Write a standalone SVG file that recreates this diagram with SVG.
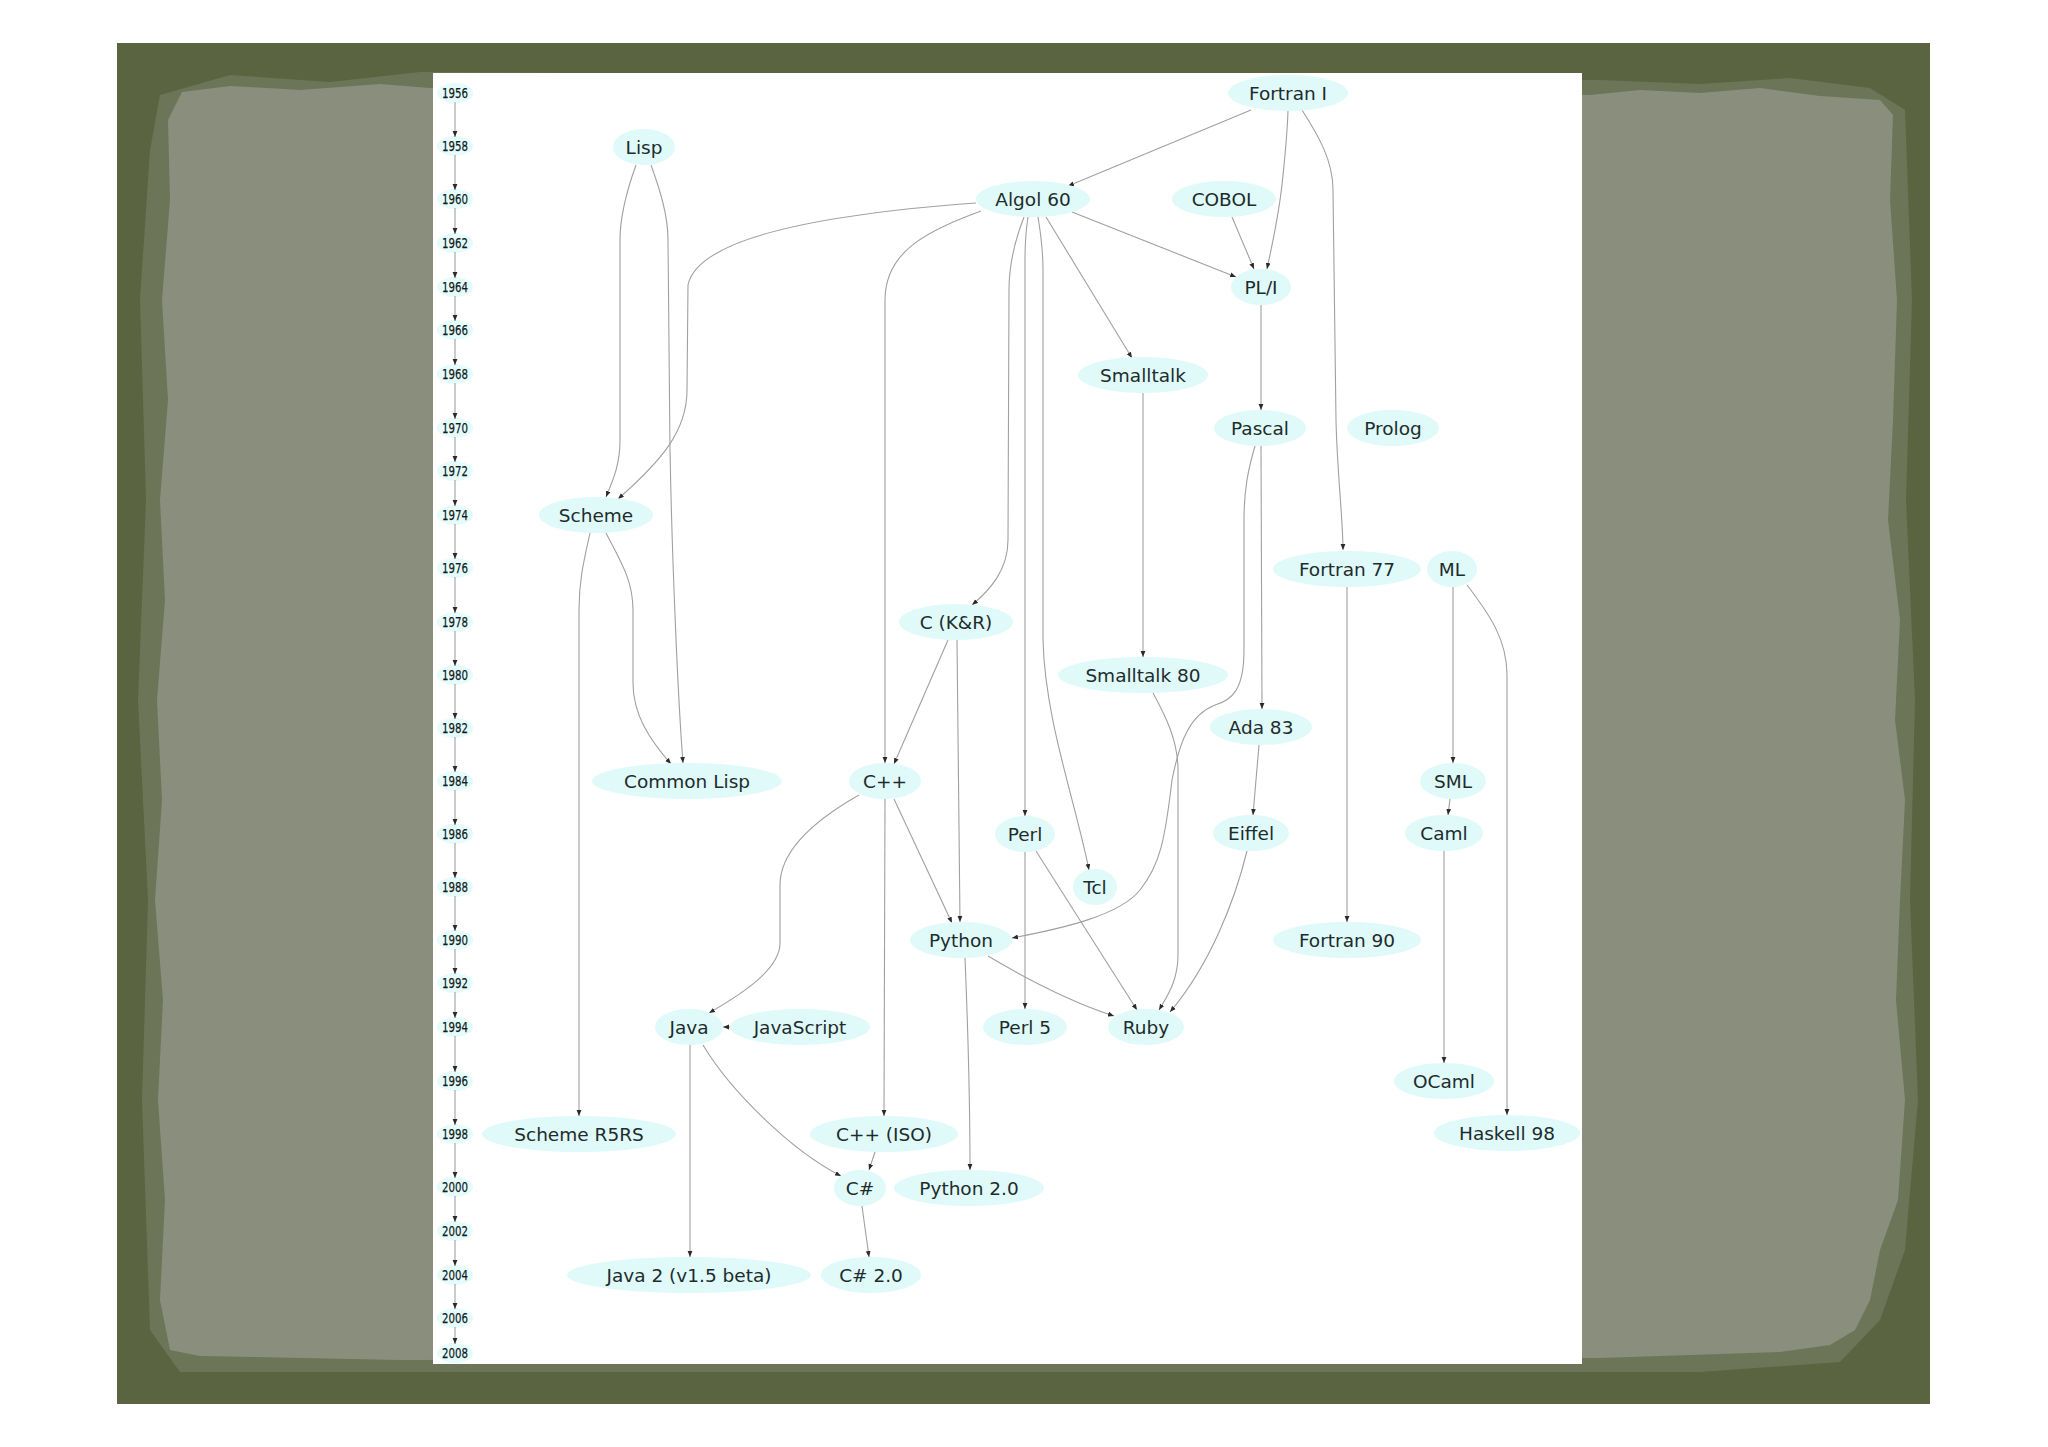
<svg xmlns="http://www.w3.org/2000/svg" width="2048" height="1447" viewBox="0 0 2048 1447">
<style>
.n ellipse{fill:#e0fafa}
.n text{font-family:"DejaVu Sans","Liberation Sans",sans-serif;font-size:18.5px;fill:#1d2c2c;text-anchor:middle}
.y ellipse{fill:#e6fbfb}
.y text{font-family:"DejaVu Sans","Liberation Sans",sans-serif;font-size:14px;fill:#0f1c1c;text-anchor:middle;stroke:#0f1c1c;stroke-width:0.25}
.e{fill:none;stroke:#a0a0a0;stroke-width:1.1;marker-end:url(#ah)}
</style>
<defs>
<marker id="ah" markerWidth="7" markerHeight="6" refX="6" refY="3" orient="auto" markerUnits="userSpaceOnUse"><path d="M0,0.6 L6,3 L0,5.4 z" fill="#2a2a2a"/></marker>
</defs>
<rect width="2048" height="1447" fill="#ffffff"/>
<g id="background">
<rect x="117" y="43" width="1813" height="1361" fill="#5a6440"/>
<polygon fill="#6c7558" points="160,95 230,75 330,82 420,72 1600,80 1700,84 1790,78 1870,88 1905,110 1912,300 1906,500 1915,700 1910,900 1918,1100 1905,1250 1880,1320 1840,1362 1700,1372 180,1372 150,1330 142,1100 148,900 138,700 146,500 140,300 150,150"/>
<polygon fill="#8a8f7d" points="182,92 230,86 300,90 380,84 430,88 1590,95 1640,90 1700,93 1760,88 1820,96 1880,100 1893,115 1890,200 1897,300 1893,420 1888,520 1900,620 1895,720 1905,800 1900,900 1896,1000 1905,1100 1898,1200 1880,1250 1870,1300 1855,1330 1830,1345 1780,1352 1600,1358 400,1360 200,1356 170,1350 160,1300 165,1200 158,1100 163,1000 155,900 162,800 157,700 165,600 160,500 168,400 162,300 170,200 168,120"/>
</g>
<rect id="panel" x="433" y="73" width="1149" height="1291" fill="#ffffff"/>
<g id="years">
<g class="y" id="y1956"><ellipse cx="455" cy="93" rx="18" ry="10"/><text x="455" y="98" textLength="26" lengthAdjust="spacingAndGlyphs">1956</text></g>
<g class="y" id="y1958"><ellipse cx="455" cy="146" rx="18" ry="10"/><text x="455" y="151" textLength="26" lengthAdjust="spacingAndGlyphs">1958</text></g>
<g class="y" id="y1960"><ellipse cx="455" cy="199" rx="18" ry="10"/><text x="455" y="204" textLength="26" lengthAdjust="spacingAndGlyphs">1960</text></g>
<g class="y" id="y1962"><ellipse cx="455" cy="243" rx="18" ry="10"/><text x="455" y="248" textLength="26" lengthAdjust="spacingAndGlyphs">1962</text></g>
<g class="y" id="y1964"><ellipse cx="455" cy="287" rx="18" ry="10"/><text x="455" y="292" textLength="26" lengthAdjust="spacingAndGlyphs">1964</text></g>
<g class="y" id="y1966"><ellipse cx="455" cy="330" rx="18" ry="10"/><text x="455" y="335" textLength="26" lengthAdjust="spacingAndGlyphs">1966</text></g>
<g class="y" id="y1968"><ellipse cx="455" cy="374" rx="18" ry="10"/><text x="455" y="379" textLength="26" lengthAdjust="spacingAndGlyphs">1968</text></g>
<g class="y" id="y1970"><ellipse cx="455" cy="428" rx="18" ry="10"/><text x="455" y="433" textLength="26" lengthAdjust="spacingAndGlyphs">1970</text></g>
<g class="y" id="y1972"><ellipse cx="455" cy="471" rx="18" ry="10"/><text x="455" y="476" textLength="26" lengthAdjust="spacingAndGlyphs">1972</text></g>
<g class="y" id="y1974"><ellipse cx="455" cy="515" rx="18" ry="10"/><text x="455" y="520" textLength="26" lengthAdjust="spacingAndGlyphs">1974</text></g>
<g class="y" id="y1976"><ellipse cx="455" cy="568" rx="18" ry="10"/><text x="455" y="573" textLength="26" lengthAdjust="spacingAndGlyphs">1976</text></g>
<g class="y" id="y1978"><ellipse cx="455" cy="622" rx="18" ry="10"/><text x="455" y="627" textLength="26" lengthAdjust="spacingAndGlyphs">1978</text></g>
<g class="y" id="y1980"><ellipse cx="455" cy="675" rx="18" ry="10"/><text x="455" y="680" textLength="26" lengthAdjust="spacingAndGlyphs">1980</text></g>
<g class="y" id="y1982"><ellipse cx="455" cy="728" rx="18" ry="10"/><text x="455" y="733" textLength="26" lengthAdjust="spacingAndGlyphs">1982</text></g>
<g class="y" id="y1984"><ellipse cx="455" cy="781" rx="18" ry="10"/><text x="455" y="786" textLength="26" lengthAdjust="spacingAndGlyphs">1984</text></g>
<g class="y" id="y1986"><ellipse cx="455" cy="834" rx="18" ry="10"/><text x="455" y="839" textLength="26" lengthAdjust="spacingAndGlyphs">1986</text></g>
<g class="y" id="y1988"><ellipse cx="455" cy="887" rx="18" ry="10"/><text x="455" y="892" textLength="26" lengthAdjust="spacingAndGlyphs">1988</text></g>
<g class="y" id="y1990"><ellipse cx="455" cy="940" rx="18" ry="10"/><text x="455" y="945" textLength="26" lengthAdjust="spacingAndGlyphs">1990</text></g>
<g class="y" id="y1992"><ellipse cx="455" cy="983" rx="18" ry="10"/><text x="455" y="988" textLength="26" lengthAdjust="spacingAndGlyphs">1992</text></g>
<g class="y" id="y1994"><ellipse cx="455" cy="1027" rx="18" ry="10"/><text x="455" y="1032" textLength="26" lengthAdjust="spacingAndGlyphs">1994</text></g>
<g class="y" id="y1996"><ellipse cx="455" cy="1081" rx="18" ry="10"/><text x="455" y="1086" textLength="26" lengthAdjust="spacingAndGlyphs">1996</text></g>
<g class="y" id="y1998"><ellipse cx="455" cy="1134" rx="18" ry="10"/><text x="455" y="1139" textLength="26" lengthAdjust="spacingAndGlyphs">1998</text></g>
<g class="y" id="y2000"><ellipse cx="455" cy="1187" rx="18" ry="10"/><text x="455" y="1192" textLength="26" lengthAdjust="spacingAndGlyphs">2000</text></g>
<g class="y" id="y2002"><ellipse cx="455" cy="1231" rx="18" ry="10"/><text x="455" y="1236" textLength="26" lengthAdjust="spacingAndGlyphs">2002</text></g>
<g class="y" id="y2004"><ellipse cx="455" cy="1275" rx="18" ry="10"/><text x="455" y="1280" textLength="26" lengthAdjust="spacingAndGlyphs">2004</text></g>
<g class="y" id="y2006"><ellipse cx="455" cy="1318" rx="18" ry="10"/><text x="455" y="1323" textLength="26" lengthAdjust="spacingAndGlyphs">2006</text></g>
<g class="y" id="y2008"><ellipse cx="455" cy="1353" rx="18" ry="10"/><text x="455" y="1358" textLength="26" lengthAdjust="spacingAndGlyphs">2008</text></g>
</g>
<g id="connectors">
<path class="e" d="M455,102 L455,137"/>
<path class="e" d="M455,155 L455,190"/>
<path class="e" d="M455,208 L455,234"/>
<path class="e" d="M455,252 L455,278"/>
<path class="e" d="M455,296 L455,321"/>
<path class="e" d="M455,339 L455,365"/>
<path class="e" d="M455,383 L455,419"/>
<path class="e" d="M455,437 L455,462"/>
<path class="e" d="M455,480 L455,506"/>
<path class="e" d="M455,524 L455,559"/>
<path class="e" d="M455,577 L455,613"/>
<path class="e" d="M455,631 L455,666"/>
<path class="e" d="M455,684 L455,719"/>
<path class="e" d="M455,737 L455,772"/>
<path class="e" d="M455,790 L455,825"/>
<path class="e" d="M455,843 L455,878"/>
<path class="e" d="M455,896 L455,931"/>
<path class="e" d="M455,949 L455,974"/>
<path class="e" d="M455,992 L455,1018"/>
<path class="e" d="M455,1036 L455,1072"/>
<path class="e" d="M455,1090 L455,1125"/>
<path class="e" d="M455,1143 L455,1178"/>
<path class="e" d="M455,1196 L455,1222"/>
<path class="e" d="M455,1240 L455,1266"/>
<path class="e" d="M455,1284 L455,1309"/>
<path class="e" d="M455,1327 L455,1344"/>
<path class="e" d="M1251,110 L1068,186"/>
<path class="e" d="M1288,111 C1287,140 1284,165 1282,185 C1278,220 1272,245 1267,269"/>
<path class="e" d="M1302,110 C1318,135 1333,160 1333,190 L1336,420 C1337,470 1343,520 1343,550"/>
<path class="e" d="M1072,212 L1236,277"/>
<path class="e" d="M1232,217 L1254,269"/>
<path class="e" d="M1046,217 L1132,358"/>
<path class="e" d="M1261,305 L1261,410"/>
<path class="e" d="M1261,446 L1262,709"/>
<path class="e" d="M1255,446 C1248,470 1244,490 1244,520 L1244,650 C1244,690 1232,700 1215,705 C1190,715 1180,740 1172,780 C1165,840 1160,865 1140,890 C1120,915 1065,928 1012,938"/>
<path class="e" d="M976,203 C880,210 700,228 688,285 L687,390 C687,432 660,462 618,499"/>
<path class="e" d="M636,165 C627,190 620,215 620,240 L620,440 C620,465 613,480 606,497"/>
<path class="e" d="M651,165 C660,190 668,215 668,240 L670,450 C672,560 678,700 683,763"/>
<path class="e" d="M606,533 C620,560 633,580 633,610 L633,683 C633,715 650,740 671,764"/>
<path class="e" d="M590,533 C584,560 579,580 579,610 L579,1116"/>
<path class="e" d="M981,211 C930,230 885,250 885,300 L885,763"/>
<path class="e" d="M1024,217 C1015,240 1009,265 1009,290 L1008,540 C1008,570 990,590 972,605"/>
<path class="e" d="M1028,217 C1026,230 1025,240 1025,260 L1025,816"/>
<path class="e" d="M1038,217 C1041,235 1043,250 1043,270 L1043,640 C1045,720 1075,800 1089,870"/>
<path class="e" d="M1143,393 L1143,657"/>
<path class="e" d="M948,640 L894,764"/>
<path class="e" d="M957,640 L960,922"/>
<path class="e" d="M894,799 L952,923"/>
<path class="e" d="M859,795 C815,820 780,850 780,885 L780,943 C780,970 740,995 709,1013"/>
<path class="e" d="M885,799 L884,1116"/>
<path class="e" d="M1025,852 L1025,1009"/>
<path class="e" d="M1036,851 L1137,1010"/>
<path class="e" d="M988,956 C1020,975 1065,1000 1114,1016"/>
<path class="e" d="M1153,693 C1165,715 1178,740 1178,770 L1178,955 C1178,980 1168,995 1159,1010"/>
<path class="e" d="M1247,851 C1235,900 1210,965 1170,1012"/>
<path class="e" d="M1259,745 L1253,815"/>
<path class="e" d="M1347,587 L1347,922"/>
<path class="e" d="M1453,587 L1453,763"/>
<path class="e" d="M1450,799 L1448,815"/>
<path class="e" d="M1467,585 C1490,615 1507,640 1507,675 L1507,1115"/>
<path class="e" d="M1444,851 L1444,1063"/>
<path class="e" d="M965,958 C968,1030 970,1100 970,1170"/>
<path class="e" d="M733,1027 L723,1027"/>
<path class="e" d="M690,1045 L690,1257"/>
<path class="e" d="M703,1045 C730,1090 790,1150 841,1176"/>
<path class="e" d="M875,1152 L869,1170"/>
<path class="e" d="M862,1206 L869,1257"/>
</g>
<g class="n" id="fortran-i"><ellipse cx="1288" cy="93" rx="60" ry="18"/><text x="1288" y="100">Fortran I</text></g>
<g class="n" id="lisp"><ellipse cx="644" cy="147" rx="31" ry="18"/><text x="644" y="154">Lisp</text></g>
<g class="n" id="algol-60"><ellipse cx="1033" cy="199" rx="57" ry="18"/><text x="1033" y="206">Algol 60</text></g>
<g class="n" id="cobol"><ellipse cx="1224" cy="199" rx="52" ry="18"/><text x="1224" y="206">COBOL</text></g>
<g class="n" id="pl-i"><ellipse cx="1261" cy="287" rx="30" ry="18"/><text x="1261" y="294">PL/I</text></g>
<g class="n" id="smalltalk"><ellipse cx="1143" cy="375" rx="65" ry="18"/><text x="1143" y="382">Smalltalk</text></g>
<g class="n" id="pascal"><ellipse cx="1260" cy="428" rx="46" ry="18"/><text x="1260" y="435">Pascal</text></g>
<g class="n" id="prolog"><ellipse cx="1393" cy="428" rx="46" ry="18"/><text x="1393" y="435">Prolog</text></g>
<g class="n" id="scheme"><ellipse cx="596" cy="515" rx="57" ry="18"/><text x="596" y="522">Scheme</text></g>
<g class="n" id="fortran-77"><ellipse cx="1347" cy="569" rx="74" ry="18"/><text x="1347" y="576">Fortran 77</text></g>
<g class="n" id="ml"><ellipse cx="1452" cy="569" rx="25" ry="18"/><text x="1452" y="576">ML</text></g>
<g class="n" id="c-kr"><ellipse cx="956" cy="622" rx="57" ry="18"/><text x="956" y="629">C (K&amp;R)</text></g>
<g class="n" id="smalltalk-80"><ellipse cx="1143" cy="675" rx="85" ry="18"/><text x="1143" y="682">Smalltalk 80</text></g>
<g class="n" id="ada-83"><ellipse cx="1261" cy="727" rx="51" ry="18"/><text x="1261" y="734">Ada 83</text></g>
<g class="n" id="common-lisp"><ellipse cx="687" cy="781" rx="95" ry="18"/><text x="687" y="788">Common Lisp</text></g>
<g class="n" id="cpp"><ellipse cx="885" cy="781" rx="36" ry="18"/><text x="885" y="788">C++</text></g>
<g class="n" id="sml"><ellipse cx="1453" cy="781" rx="33" ry="18"/><text x="1453" y="788">SML</text></g>
<g class="n" id="perl"><ellipse cx="1025" cy="834" rx="30" ry="18"/><text x="1025" y="841">Perl</text></g>
<g class="n" id="eiffel"><ellipse cx="1251" cy="833" rx="38" ry="18"/><text x="1251" y="840">Eiffel</text></g>
<g class="n" id="caml"><ellipse cx="1444" cy="833" rx="39" ry="18"/><text x="1444" y="840">Caml</text></g>
<g class="n" id="tcl"><ellipse cx="1095" cy="887" rx="22" ry="18"/><text x="1095" y="894">Tcl</text></g>
<g class="n" id="python"><ellipse cx="961" cy="940" rx="51" ry="18"/><text x="961" y="947">Python</text></g>
<g class="n" id="fortran-90"><ellipse cx="1347" cy="940" rx="74" ry="18"/><text x="1347" y="947">Fortran 90</text></g>
<g class="n" id="java"><ellipse cx="689" cy="1027" rx="34" ry="18"/><text x="689" y="1034">Java</text></g>
<g class="n" id="javascript"><ellipse cx="800" cy="1027" rx="70" ry="18"/><text x="800" y="1034">JavaScript</text></g>
<g class="n" id="perl-5"><ellipse cx="1025" cy="1027" rx="42" ry="18"/><text x="1025" y="1034">Perl 5</text></g>
<g class="n" id="ruby"><ellipse cx="1146" cy="1027" rx="38" ry="18"/><text x="1146" y="1034">Ruby</text></g>
<g class="n" id="ocaml"><ellipse cx="1444" cy="1081" rx="50" ry="18"/><text x="1444" y="1088">OCaml</text></g>
<g class="n" id="scheme-r5rs"><ellipse cx="579" cy="1134" rx="97" ry="18"/><text x="579" y="1141">Scheme R5RS</text></g>
<g class="n" id="cpp-iso"><ellipse cx="884" cy="1134" rx="74" ry="18"/><text x="884" y="1141">C++ (ISO)</text></g>
<g class="n" id="haskell-98"><ellipse cx="1507" cy="1133" rx="73" ry="18"/><text x="1507" y="1140">Haskell 98</text></g>
<g class="n" id="csharp"><ellipse cx="860" cy="1188" rx="26" ry="18"/><text x="860" y="1195">C#</text></g>
<g class="n" id="python-2"><ellipse cx="969" cy="1188" rx="75" ry="18"/><text x="969" y="1195">Python 2.0</text></g>
<g class="n" id="java-2"><ellipse cx="689" cy="1275" rx="122" ry="18"/><text x="689" y="1282">Java 2 (v1.5 beta)</text></g>
<g class="n" id="csharp-2"><ellipse cx="871" cy="1275" rx="50" ry="18"/><text x="871" y="1282">C# 2.0</text></g>
</svg>
